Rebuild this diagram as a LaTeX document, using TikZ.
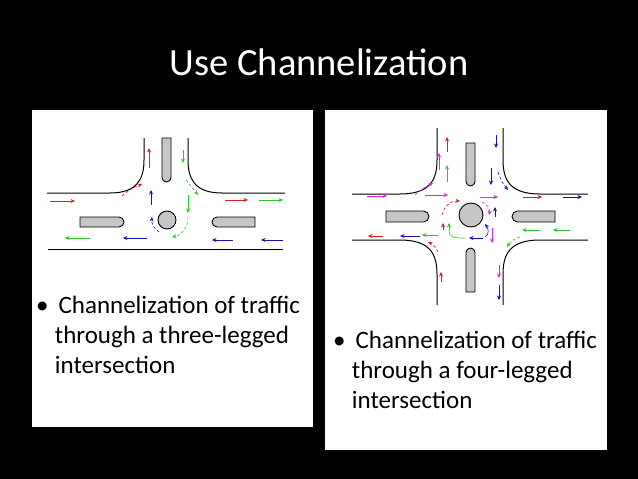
\documentclass[tikz,border=0pt]{standalone}
\usepackage{fontspec}
\setmainfont{Carlito}
\usetikzlibrary{arrows.meta}
\definecolor{ar}{RGB}{220,30,30}
\definecolor{ag}{RGB}{40,200,40}
\definecolor{ab}{RGB}{20,20,180}
\definecolor{am}{RGB}{220,40,220}
\tikzset{
 road/.style={line width=1pt,black},
 isl/.style={draw=black,line width=0.9pt,fill=gray!45},
 fl/.style={-{Stealth[length=4.5pt,width=4pt]},line width=0.6pt},
 bul/.style={text=black,font=\fontsize{25}{30}\selectfont,anchor=north west,align=left,inner sep=0pt},
}
\begin{document}
\begin{tikzpicture}[x=1pt,y=-1pt]
\fill[black] (0,0) rectangle (638,479);
\useasboundingbox (0,0) rectangle (638,479);
\node[text=white,font=\fontsize{38.5}{44}\selectfont] (title) at (319,62) {Use Channelization};
\fill[white] (32,110) rectangle (313,427);
\fill[white] (325,110) rectangle (607,450);
% ---- left diagram
\draw[road] (47,193) -- (110,193) .. controls (138,193) and (144,178) .. (144,160) -- (144,138);
\draw[road] (188,138) -- (188,160) .. controls (188,178) and (194,193) .. (222,193) -- (285,193);
\draw[road] (48,249) -- (283,249);
\draw[isl] (162,138) [rounded corners=4.5] -- (162,182) -- (171,182) [sharp corners] -- (171,138) -- cycle;
\draw[isl] (80,217) [sharp corners] -- (80,227) [rounded corners=5] -- (124,227) -- (124,217) [sharp corners] -- cycle;
\draw[isl] (255,217) [sharp corners] -- (255,227) [rounded corners=5] -- (212,227) -- (212,217) [sharp corners] -- cycle;
\draw[isl] (167,220) circle (9);
\draw[fl,ar] (149,168) -- (149,148);
\draw[fl,ar,densely dashed] (122,196) to[bend left=10] (142,184);
\draw[fl,ar] (50,201) -- (75,201);
\draw[fl,ab] (151,205) -- (151,190);
\draw[fl,ab,densely dashed] (159,232) to[bend left=30] (152,217);
\draw[fl,ag] (183,150) -- (183,163);
\draw[fl,ag,densely dashed] (186,180) -- (198,195);
\draw[fl,ag] (188,195) -- (188,213);
\draw[fl,ag,densely dashed] (188,217) to[bend left=40] (172,237);
\draw[fl,ar] (225,200) -- (248,200);
\draw[fl,ag] (259,200) -- (283,200);
\draw[fl,ag] (90,238) -- (65,238);
\draw[fl,ab] (147,238) -- (123,238);
\draw[fl,ab] (233,240) -- (212,240);
\draw[fl,ab] (283,240) -- (261,240);
% ---- right diagram
\draw[road] (352,194) -- (400,194) .. controls (430,194) and (437,180) .. (437,160) -- (437,128);
\draw[road] (503,128) -- (503,160) .. controls (503,180) and (510,194) .. (540,194) -- (588,194);
\draw[road] (352,240) -- (400,240) .. controls (430,240) and (437,254) .. (437,274) -- (437,305);
\draw[road] (503,305) -- (503,274) .. controls (503,254) and (510,240) .. (540,240) -- (588,240);
\draw[isl] (466,143) [rounded corners=4.5] -- (466,186) -- (475,186) [sharp corners] -- (475,143) -- cycle;
\draw[isl] (466,292) [rounded corners=4.5] -- (466,248) -- (475,248) [sharp corners] -- (475,292) -- cycle;
\draw[isl] (386,211) [sharp corners] -- (386,222) [rounded corners=5.5] -- (429,222) -- (429,211) [sharp corners] -- cycle;
\draw[isl] (555,211) [sharp corners] -- (555,222) [rounded corners=5.5] -- (512,222) -- (512,211) [sharp corners] -- cycle;
\draw[isl] (471,215) circle (12);
\draw[fl,ar] (447,152) -- (447,137);
\draw[fl,am] (439,170) -- (439,153);
\draw[fl,ag] (447,182) -- (447,165);
\draw[fl,am,densely dashed] (415,195) to[bend left=10] (433,183);
\draw[fl,am] (367,196) -- (387,196);
\draw[fl,am] (425,195) -- (448,195);
\draw[fl,ar,densely dashed] (442,215) to[bend left=40] (460,201);
\draw[fl,am] (480,197) -- (498,197);
\draw[fl,ar] (523,197) -- (542,197);
\draw[fl,ab] (563,197) -- (582,197);
\draw[fl,ab] (496,135) -- (496,148);
\draw[fl,ab] (491,168) -- (491,185);
\draw[fl,ab,densely dashed] (498,172) to[bend right=10] (508,190);
\draw[fl,am,densely dashed] (482,202) to[bend left=40] (489,215);
\draw[fl,ab] (495,217) -- (495,207);
\draw[fl,am] (492,228) -- (492,243);
\draw[fl,ag] (540,230) -- (522,230);
\draw[fl,ag] (570,230) -- (553,230);
\draw[fl,ag,densely dashed] (520,237) to[bend right=20] (507,247);
\draw[fl,am] (499,265) -- (499,278);
\draw[fl,ab] (499,285) -- (499,300);
\draw[fl,ar] (383,236) -- (368,236);
\draw[fl,ab] (420,236) -- (400,236);
\draw[fl,ag] (438,235) -- (422,235);
\draw[fl,ar,densely dashed] (438,252) to[bend right=20] (428,242);
\draw[fl,ar] (441,282) -- (441,272);
\draw[fl,ar] (443,230) -- (443,223);
\draw[fl,ag] (449,230) -- (449,223);
\draw[ag,line width=0.6pt] (449,230) .. controls (449,238) and (455,238) .. (465,238);
\draw[fl,ab] (485,237) .. controls (490,234) and (488,228) .. (485,224);
\draw[fl,ab] (483,238) -- (469,238);
% ---- text
\node[bul] (t1) at (36,296) {•\hspace{0.4em}Channelization of traffic\\\hspace{0.75em}through a three-legged\\\hspace{0.75em}intersection};
\node[bul] (t2) at (333,331) {•\hspace{0.4em}Channelization of traffic\\\hspace{0.75em}through a four-legged\\\hspace{0.75em}intersection};
\end{tikzpicture}
\end{document}
